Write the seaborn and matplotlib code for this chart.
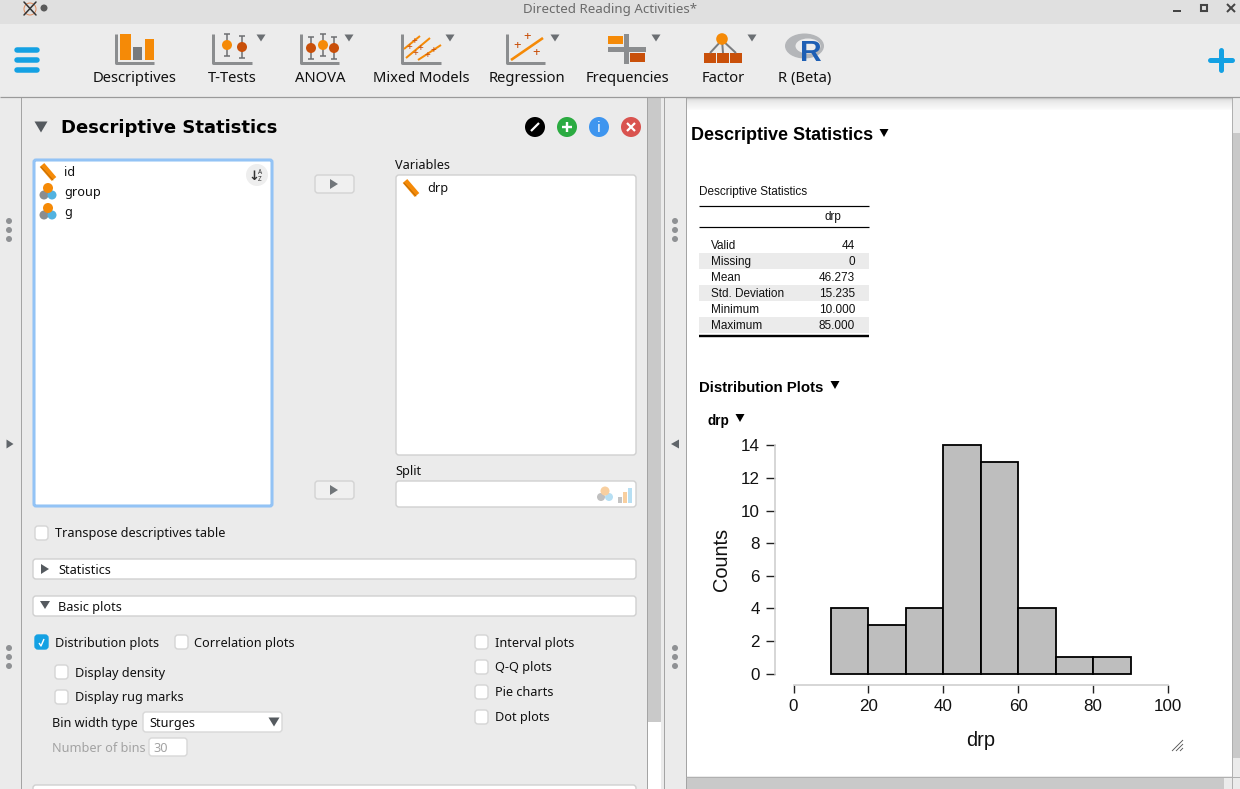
import matplotlib
matplotlib.use("Agg")
import matplotlib.pyplot as plt
from matplotlib.patches import Circle, Ellipse, FancyBboxPatch, Polygon, Rectangle
import seaborn as sns

# histogram data
bin_edges = [10, 20, 30, 40, 50, 60, 70, 80, 90]
counts = [4, 3, 4, 14, 13, 4, 1, 1]
x_ticks = [0, 20, 40, 60, 80, 100]
y_ticks = [0, 2, 4, 6, 8, 10, 12, 14]

# results table
stat_names = ["Valid", "Missing", "Mean", "Std. Deviation", "Minimum", "Maximum"]
stat_values = ["44", "0", "46.273", "15.235", "10.000", "85.000"]

# interface text
toolbar_labels = ["Descriptives", "T-Tests", "ANOVA", "Mixed Models", "Regression",
                  "Frequencies", "Factor", "R (Beta)"]
source_vars = ["id", "group", "g"]
right_checks = ["Interval plots", "Q-Q plots", "Pie charts", "Dot plots"]

UI_FONT = "Noto Sans"
OUT_FONT = "Liberation Sans"
ORANGE = "#f58a07"
RUST = "#c9500a"
GREY = "#8b8d8f"
BLUE = "#14a1e3"
LABEL = 12.7

sns.set_style("ticks")
plt.rcParams["font.family"] = [OUT_FONT, "DejaVu Sans"]

fig = plt.figure(figsize=(12.4, 7.89), dpi=100, facecolor="#ebebeb")
ui = fig.add_axes([0, 0, 1, 1])
ui.set_xlim(0, 1240)
ui.set_ylim(789, 0)
ui.axis("off")


def px(size):
    return size * 0.72


def rect(x0, y0, x1, y1, fc, ec="none", lw=0, z=1):
    ui.add_patch(Rectangle((x0, y0), x1 - x0, y1 - y0, fc=fc, ec=ec, lw=lw, zorder=z))


def rbox(x0, y0, x1, y1, fc="white", ec="#d0d0d0", lw=1, r=3, z=2):
    ui.add_patch(FancyBboxPatch((x0, y0), x1 - x0, y1 - y0, boxstyle=f"round,pad=0,rounding_size={r}",
                                fc=fc, ec=ec, lw=lw, zorder=z))


def line(xs, ys, color="black", lw=1, z=3, cap="butt"):
    ui.plot(xs, ys, color=color, lw=lw * 0.72, zorder=z, solid_capstyle=cap)


def text(x, y, s, size=LABEL, color="#111111", font=UI_FONT, weight="normal", ha="left", z=5):
    ui.text(x, y, s, fontsize=px(size), color=color, family=font, weight=weight,
            ha=ha, va="center", zorder=z)


def tri(x, y, w=10, h=9, color="#555a5f", right=False):
    if right:
        pts = [(x - h / 2, y - w / 2), (x - h / 2, y + w / 2), (x + h / 2, y)]
    else:
        pts = [(x - w / 2, y - h / 2), (x + w / 2, y - h / 2), (x, y + h / 2)]
    ui.add_patch(Polygon(pts, fc=color, ec="none", zorder=5))


def dots(x, y):
    for dy in (-9, 0, 9):
        ui.add_patch(Circle((x, y + dy), 3, fc="#8f9194", ec="none", zorder=3))


def ruler(x, y):
    ui.plot([x - 6, x + 6], [y - 7, y + 7], color=ORANGE, lw=px(6), zorder=5, solid_capstyle="butt")
    ui.plot([x - 7, x + 5], [y - 5, y + 8], color="#b96a05", lw=0.6, zorder=6)


def nominal(x, y):
    ui.add_patch(Circle((x - 4, y + 3), 4.5, fc=GREY, ec="none", zorder=5))
    ui.add_patch(Circle((x + 4, y + 3), 4.5, fc="#52b2e0", ec="none", zorder=5))
    ui.add_patch(Circle((x, y - 4), 5, fc=ORANGE, ec="none", zorder=6))


def axis_l(x0, x1, y0, y1):
    line([x0 + 1, x0 + 1, x1], [y0, y1 - 1, y1 - 1], GREY, 3)


def err_dot(x, y, color):
    line([x, x], [y - 11, y + 11], "#6b6d70", 1.5)
    line([x - 3, x + 3], [y - 11, y - 11], "#6b6d70", 1.5)
    line([x - 3, x + 3], [y + 11, y + 11], "#6b6d70", 1.5)
    ui.add_patch(Circle((x, y), 5, fc=color, ec="none", zorder=5))


def check(x, y, on=False):
    if on:
        rbox(x, y - 7, x + 13, y + 7, fc=BLUE, ec=BLUE, r=3)
        line([x + 4, x + 6, x + 9], [y + 1, y + 4, y - 3], "white", 1.4, z=6)
    else:
        rbox(x, y - 7, x + 13, y + 7, fc="white", ec="#d5d5d5", r=3)


# window chrome
rect(0, 0, 1240, 24, "#e0e0e0")
rect(0, 24, 1240, 96, "#ececec")
line([0, 1240], [96.5, 96.5], "#9a9a9a", 1.2, z=4)
rect(686, 97, 1232, 776, "white")
for i, shade in enumerate(["#c9c9c9", "#dcdcdc", "#e4e4e4", "#e8e8e8", "#ebebeb", "#eeeeee", "#f0f0f0",
                           "#f2f2f2", "#f4f4f4", "#f6f6f6", "#f8f8f8", "#fbfbfb"]):
    line([686, 1232], [97.5 + i, 97.5 + i], shade, 1, z=2)
line([20.5, 20.5], [97, 789], "#a4a4a4", 1)
line([647, 647], [97, 789], "#a4a4a4", 1)
rect(648, 98, 661, 722, "#c9c9c9")
rect(648, 722, 661, 789, "white")
line([663.5, 663.5], [97, 789], "#a4a4a4", 1)
line([685.5, 685.5], [97, 789], "#a4a4a4", 1)
line([1232, 1232], [97, 789], "#b0b0b0", 1)
line([686, 1240], [776.5, 776.5], "#b0b0b0", 1)
rect(1233, 133, 1240, 758, "#c9c9c9")
rect(687, 778, 1224, 789, "#c9c9c9")
for dx, dy in [(9, 230), (9, 657), (675, 230), (675, 657)]:
    dots(dx, dy)
tri(10, 444, right=True, w=9, h=7, color="#60656a")
ui.add_patch(Polygon([(671, 444), (679, 439.5), (679, 448.5)], fc="#60656a", ec="none", zorder=5))

# title bar
ui.plot([24, 36], [2, 15], color="#333333", lw=1.1, zorder=5)
ui.plot([36, 24], [2, 15], color="#333333", lw=1.1, zorder=5)
ui.add_patch(Ellipse((30, 9), 12, 12, fc="none", ec="#e08a5a", lw=0.7, zorder=4))
ui.add_patch(Circle((44, 8), 3.5, fc="#5a5a5a", ec="none", zorder=5))
text(610, 9, "Directed Reading Activities*", 13.3, "#6a6a6a", ha="center")
line([1173, 1181], [11, 11], "#444444", 2)
rect(1200.5, 4.5, 1207, 11, "none", "#444444", 1.5, z=5)
line([1227, 1235], [4, 12], "#444444", 2)
line([1235, 1227], [4, 12], "#444444", 2)

# toolbar
for y in (50, 60, 70):
    line([17, 37], [y, y], BLUE, 5.5, cap="round")
label_x = [135, 232, 320, 421, 527, 627, 723, 805]
for s, x in zip(toolbar_labels, label_x):
    text(x, 78, s, 14.8, ha="center")
for x in (261, 349, 450, 555, 656, 752):
    tri(x, 38, 9, 7, "#6b6f73")
# Descriptives
axis_l(115, 154, 34, 64)
rect(120, 34, 131, 60, ORANGE)
rect(133, 47, 142, 60, "#777a7d")
rect(145, 39, 154, 60, ORANGE)
# T-Tests
axis_l(212, 252, 34, 64)
err_dot(227, 45, ORANGE)
err_dot(242, 47, RUST)
# ANOVA
axis_l(300, 339, 34, 64)
err_dot(311, 48, RUST)
err_dot(323, 45, ORANGE)
err_dot(334, 48, RUST)
# Mixed models
axis_l(401, 441, 34, 64)
for x0, x1, y0, y1 in [(404, 420, 49, 36), (406, 430, 58, 38), (418, 441, 60, 45)]:
    line([x0, x1], [y0, y1], ORANGE, 2)
for x, y in [(414, 41), (409, 47), (420, 48), (415, 53), (427, 55), (433, 50)]:
    text(x, y, "+", 10, RUST, weight="bold", ha="center")
# Regression
axis_l(506, 545, 34, 64)
line([511, 543], [60, 38], ORANGE, 2.6)
for x, y in [(517, 45), (527, 36), (536, 52)]:
    text(x, y, "+", 13, RUST, weight="bold", ha="center")
# Frequencies
rect(608, 36, 623, 44, ORANGE)
rect(608, 47, 646, 52, GREY)
rect(624, 34, 629, 64, GREY)
rect(630, 53, 645, 62, RUST)
# Factor
for x in (710, 723, 736):
    rect(x - 6, 53, x + 6, 63, RUST)
    line([722, x], [40, 53], "#7a7c7f", 2)
ui.add_patch(Circle((722, 39), 5.8, fc=ORANGE, ec="none", zorder=5))
# R
ui.add_patch(Ellipse((804.5, 46), 39, 25, fc="#b4b6b9", ec="none", zorder=3))
ui.add_patch(Ellipse((808, 46), 25, 15, fc="#ececec", ec="none", zorder=3))
ui.text(811, 53, "R", fontsize=px(30), color="#1e5fb4", family=OUT_FONT, weight="bold",
        ha="center", va="center", zorder=5)
# plus
line([1210, 1232], [60, 60], BLUE, 5, cap="round")
line([1221, 1221], [50, 70], BLUE, 5, cap="round")

# analysis panel
tri(41, 127, 13, 11)
text(61, 128, "Descriptive Statistics", 18, "black", font="DejaVu Sans", weight="bold")
for x, c in zip((535, 567, 599, 631), ("black", "#2bab41", "#3e95ef", "#d9534f")):
    ui.add_patch(Circle((x, 127), 10, fc=c, ec="none", zorder=4))
line([531, 539], [131, 123], "white", 2.2, z=5)
line([562, 572], [127, 127], "white", 2.4, z=5)
line([567, 567], [122, 132], "white", 2.4, z=5)
text(599, 128, "i", 15, "white", weight="bold", ha="center")
line([627, 635], [123, 131], "white", 2.2, z=5)
line([635, 627], [123, 131], "white", 2.2, z=5)

rbox(34, 160, 272, 506, ec="#93c3f5", lw=2.2, r=2)
ruler(48, 172)
nominal(48, 192)
nominal(48, 212)
for s, y in zip(source_vars, (172, 192, 212)):
    text(64, y, s)
ui.add_patch(Circle((257, 175), 11, fc="#eeeeee", ec="none", zorder=4))
text(254, 176, "↓", 13, "#333333", font="DejaVu Sans", weight="bold", ha="center")
text(260, 172, "A", 6.5, "#333333", ha="center")
text(260, 179, "Z", 6.5, "#333333", ha="center")

for y in (175, 481):
    rbox(315, y, 354, y + 18, fc="#f0f0f0", ec="#d3d3d3")
    tri(334, y + 9, 10, 8, "#71767a", right=True)
text(395, 165, "Variables")
rbox(396, 175, 636, 455)
ruler(411, 188)
text(427, 188, "drp")
text(395, 471, "Split")
rbox(396, 481, 636, 507)
ui.add_patch(Circle((601, 497), 4, fc="#c0c0c0", ec="none", zorder=5))
ui.add_patch(Circle((609, 497), 4, fc="#b7dff3", ec="none", zorder=5))
ui.add_patch(Circle((605, 491), 4.5, fc="#f8cf9f", ec="none", zorder=6))
rect(618, 497, 622, 503, "#c4c4c4", z=5)
rect(623, 492, 627, 503, "#f8cf9f", z=5)
rect(628, 488, 632, 503, "#b7dff3", z=5)

check(35, 533)
text(55, 534, "Transpose descriptives table")
rbox(33, 559, 636, 579)
tri(45, 569, 10, 8, right=True)
text(58, 570, "Statistics")
rbox(33, 596, 636, 616)
tri(45, 605, 10, 8)
text(58, 607, "Basic plots")

check(35, 642, on=True)
text(55, 643, "Distribution plots")
check(175, 642)
text(194, 643, "Correlation plots")
check(55, 672)
text(75, 673, "Display density")
check(55, 697)
text(75, 698, "Display rug marks")
for s, y in zip(right_checks, (642, 667, 692, 717)):
    check(475, y)
    text(495, y + 1, s)
text(52, 723, "Bin width type")
rbox(143, 712, 282, 732, ec="#d8d8d8")
text(149, 723, "Sturges")
tri(274, 722, 11, 9)
text(52, 748, "Number of bins", color="#a3a3a3")
rbox(149, 738, 187, 756, ec="#d8d8d8")
text(153, 748, "30", color="#a3a3a3")
rbox(33, 785, 636, 800)

# results panel
text(691, 135, "Descriptive Statistics", 18, "black", OUT_FONT, "bold")
tri(884, 133, 9, 8, "black")
text(699, 192, "Descriptive Statistics", 11.8, font=OUT_FONT)
line([699, 869], [205.5, 205.5], "black", 1.2)
text(833, 217, "drp", 11.8, font=OUT_FONT, ha="center")
line([699, 869], [226.5, 226.5], "black", 1.2)
for i, (name, value) in enumerate(zip(stat_names, stat_values)):
    y = 245 + 16 * i
    if i % 2:
        rect(699, y - 8, 869, y + 8, "#ebebeb", z=2)
    text(711, y + 1, name, 11.8, font=OUT_FONT)
    text(855, y + 1, value, 11.8, font=OUT_FONT, ha="right")
line([699, 869], [335.5, 335.5], "black", 2.4)
text(699, 388, "Distribution Plots", 15, "black", OUT_FONT, "bold")
tri(835, 385, 9, 8, "black")
text(707, 421, "drp", 13.5, "black", OUT_FONT, "bold")
tri(740, 418, 9, 8, "black")

# histogram, axes box sits on the plot's data range in the results panel
ax = fig.add_axes([793.5 / 1240, 1 - 673.7 / 789, 374.5 / 1240, 228.4 / 789], facecolor="none")
bin_mids = [(a + b) / 2 for a, b in zip(bin_edges[:-1], bin_edges[1:])]
sns.histplot(x=bin_mids, weights=counts, bins=bin_edges, color="#bebebe", edgecolor="black",
             linewidth=1.3, alpha=1, ax=ax)
for p in ax.patches:
    p.set_clip_on(False)
ax.set_xlim(0, 100)
ax.set_ylim(0, 14)
ax.set_xticks(x_ticks)
ax.set_yticks(y_ticks)
ax.tick_params(axis="x", length=5.8, width=1, color="#222222", labelsize=px(17), pad=4.5, labelcolor="#111111")
ax.tick_params(axis="y", length=6.5, width=1, color="#222222", labelsize=px(17), pad=4.5, labelcolor="#111111")
sns.despine(ax=ax, offset={"left": 13.3, "bottom": 8.1})
for side in ("left", "bottom"):
    ax.spines[side].set_color("#cfcfcf")
    ax.spines[side].set_linewidth(1.2)
ax.set_xlabel("")
ax.set_ylabel("")
text(980.5, 740, "drp", 20, font=OUT_FONT, ha="center")
ui.text(722, 559, "Counts", fontsize=px(20), color="#111111", family=OUT_FONT, rotation=90,
        ha="center", va="center", zorder=5)
for d in (0, 4, 8):
    line([1172 + d, 1183], [751, 740 + d], "#555555", 0.9)

fig.savefig("out.png", dpi=100, facecolor=fig.get_facecolor())
